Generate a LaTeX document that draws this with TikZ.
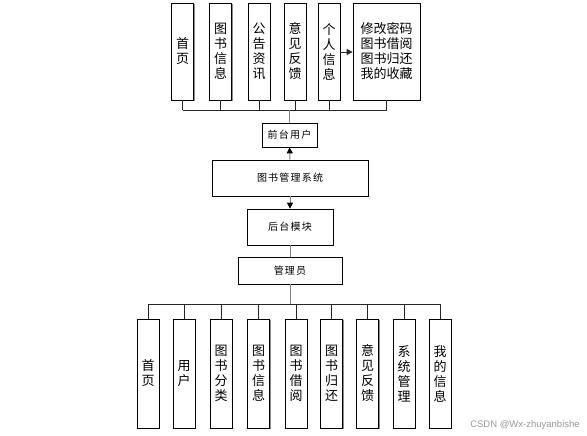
\documentclass[tikz,border=0pt]{standalone}
\usepackage{fontspec}
\setmainfont{Liberation Sans}
\newfontfamily\cjk{Noto Sans CJK SC}
\newfontfamily\cjkls[LetterSpace=12]{Noto Sans CJK SC}
\usetikzlibrary{arrows.meta,shadows}
\begin{document}
\begin{tikzpicture}[x=1pt,y=-1pt,
  vbox/.style={draw=black,line width=0.7pt,fill=white,inner sep=0pt,
    drop shadow={shadow xshift=1.2pt,shadow yshift=-1.2pt,fill=black!45,opacity=1},
    font=\cjk\fontsize{13}{15}\selectfont,align=center},
  topbox/.style={vbox,minimum width=22pt,minimum height=97pt},
  botbox/.style={vbox,minimum width=22pt,minimum height=109pt},
  midbox/.style={draw=black,line width=0.7pt,fill=white,inner sep=0pt,
    drop shadow={shadow xshift=1.2pt,shadow yshift=-1.2pt,fill=black!45,opacity=1},
    font=\cjkls\fontsize{10}{12}\selectfont},
  bus/.style={draw=black!85,line width=0.8pt},
  link/.style={draw=black!50,line width=1pt},
  arr/.style={link,-{Triangle[length=6pt,width=6pt,fill=black,color=black]}}
]
\useasboundingbox (0,0) rectangle (587,436);
\fill[white] (0,0) rectangle (587,436);
% top row
\node[topbox] (t1) at (182.5,51.5) {首\\页};
\node[topbox] (t2) at (220.5,51.5) {图\\书\\信\\息};
\node[topbox] (t3) at (259,51.5) {公\\告\\资\\讯};
\node[topbox] (t4) at (295,51.5) {意\\见\\反\\馈};
\node[topbox] (t5) at (329,51.5) {个\\人\\信\\息};
\node[vbox,minimum width=67pt,minimum height=97pt] (t6) at (386.5,51.5) {修改密码\\图书借阅\\图书归还\\我的收藏};
\draw[bus,-{Triangle[length=6pt,width=6pt]}] (t5.east |- 0,52) -- (t6.west |- 0,52);
% middle
\node[midbox,minimum width=55pt,minimum height=24pt] (ft) at (289.5,135) {前台用户};
\node[midbox,minimum width=156pt,minimum height=36pt] (sys) at (290,178) {图书管理系统};
\node[midbox,minimum width=86pt,minimum height=36pt] (ht) at (290,227) {后台模块};
\node[midbox,minimum width=104pt,minimum height=27pt] (gly) at (290,270.5) {管理员};
% top bus
\coordinate (tb) at (289.5,110);
\foreach \i in {1,...,6} {\draw[bus] (t\i.south) -- (t\i.south |- tb);}
\draw[bus] (t1.south |- tb) -- (t6.south |- tb);
\draw[link] (tb) -- (ft.north);
\draw[arr] (sys.north) -- (ft.south);
\draw[arr] (sys.south) -- (ht.north);
\draw[link] (ht.south) -- (gly.north);
% bottom row
\node[botbox] (b1) at (148,373.5) {首\\页};
\node[botbox] (b2) at (184,373.5) {用\\户};
\node[botbox] (b3) at (221,373.5) {图\\书\\分\\类};
\node[botbox] (b4) at (258.5,373.5) {图\\书\\信\\息};
\node[botbox] (b5) at (296,373.5) {图\\书\\借\\阅};
\node[botbox] (b6) at (331.5,373.5) {图\\书\\归\\还};
\node[botbox] (b7) at (367.5,373.5) {意\\见\\反\\馈};
\node[botbox] (b8) at (404,373.5) {系\\统\\管\\理};
\node[botbox] (b9) at (440,373.5) {我\\的\\信\\息};
\coordinate (bb) at (290,304);
\draw[link] (gly.south) -- (bb);
\draw[bus] (b1.north |- bb) -- (b9.north |- bb);
\foreach \i in {1,...,9} {\draw[bus] (b\i.north |- bb) -- (b\i.north);}
% watermark
\node[font=\fontsize{9.5}{11}\selectfont,text=black!40,anchor=center,inner sep=0pt] (wm) at (525,425) {CSDN @Wx-zhuyanbishe};
\end{tikzpicture}
\end{document}
